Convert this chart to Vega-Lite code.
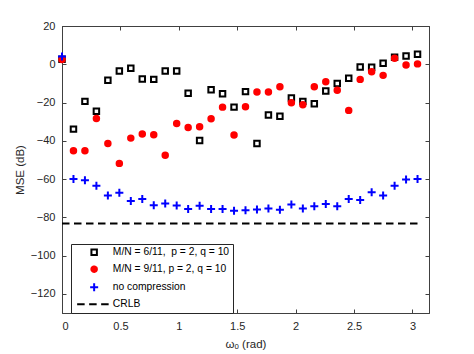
{
  "$schema": "https://vega.github.io/schema/vega-lite/v6.json",
  "width": 367,
  "height": 287,
  "autosize": {"type": "none"},
  "padding": {"left": 62, "top": 26, "right": 45, "bottom": 41},
  "background": "white",
  "config": {
    "font": "Liberation Sans",
    "view": {"stroke": "#404040", "strokeWidth": 1},
    "axis": {
      "labelFont": "Liberation Sans", "labelFontSize": 11, "labelColor": "#262626",
      "domainColor": "#404040", "tickColor": "#404040", "grid": false, "tickSize": -4,
      "titleFont": "Liberation Sans", "titleFontSize": 11.5, "titleFontWeight": "normal", "titleColor": "#262626"
    },
    "legend": {
      "orient": "none", "legendX": 9, "legendY": 218,
      "strokeColor": "#262626", "fillColor": "white", "padding": 3,
      "labelFont": "Liberation Sans", "labelFontSize": 10.3, "labelColor": "#000000",
      "symbolStrokeWidth": 2, "symbolOffset": 15, "labelOffset": 13.5, "rowPadding": 3
    }
  },
  "datasets": {
    "pts": [
      {"omega": 0, "mse": 2.6, "series": "A"}, {"omega": 0.0982, "mse": -33.9, "series": "A"}, {"omega": 0.1963, "mse": -19.4, "series": "A"}, {"omega": 0.2945, "mse": -24.5, "series": "A"},
      {"omega": 0.3927, "mse": -8.4, "series": "A"}, {"omega": 0.4909, "mse": -3.5, "series": "A"}, {"omega": 0.589, "mse": -2.1, "series": "A"}, {"omega": 0.6872, "mse": -7.7, "series": "A"},
      {"omega": 0.7854, "mse": -7.9, "series": "A"}, {"omega": 0.8836, "mse": -3.5, "series": "A"}, {"omega": 0.9817, "mse": -3.5, "series": "A"}, {"omega": 1.0799, "mse": -15.2, "series": "A"},
      {"omega": 1.1781, "mse": -39.8, "series": "A"}, {"omega": 1.2763, "mse": -13.3, "series": "A"}, {"omega": 1.3744, "mse": -15.4, "series": "A"}, {"omega": 1.4726, "mse": -22.4, "series": "A"},
      {"omega": 1.5708, "mse": -14.3, "series": "A"}, {"omega": 1.669, "mse": -41.4, "series": "A"}, {"omega": 1.7671, "mse": -26.5, "series": "A"}, {"omega": 1.8653, "mse": -27.2, "series": "A"},
      {"omega": 1.9635, "mse": -17.6, "series": "A"}, {"omega": 2.0617, "mse": -19.4, "series": "A"}, {"omega": 2.1598, "mse": -20.6, "series": "A"}, {"omega": 2.258, "mse": -14, "series": "A"},
      {"omega": 2.3562, "mse": -10, "series": "A"}, {"omega": 2.4544, "mse": -7.3, "series": "A"}, {"omega": 2.5525, "mse": -1.4, "series": "A"}, {"omega": 2.6507, "mse": -1.6, "series": "A"},
      {"omega": 2.7489, "mse": 0.5, "series": "A"}, {"omega": 2.8471, "mse": 3.7, "series": "A"}, {"omega": 2.9452, "mse": 4.3, "series": "A"}, {"omega": 3.0434, "mse": 5.2, "series": "A"},

      {"omega": 0, "mse": 2.5, "series": "B"}, {"omega": 0.0982, "mse": -45.2, "series": "B"}, {"omega": 0.1963, "mse": -45.2, "series": "B"}, {"omega": 0.2945, "mse": -28.3, "series": "B"},
      {"omega": 0.3927, "mse": -41.4, "series": "B"}, {"omega": 0.4909, "mse": -51.8, "series": "B"}, {"omega": 0.589, "mse": -38.6, "series": "B"}, {"omega": 0.6872, "mse": -36.5, "series": "B"},
      {"omega": 0.7854, "mse": -36.8, "series": "B"}, {"omega": 0.8836, "mse": -47.5, "series": "B"}, {"omega": 0.9817, "mse": -30.9, "series": "B"}, {"omega": 1.0799, "mse": -33, "series": "B"},
      {"omega": 1.1781, "mse": -32.7, "series": "B"}, {"omega": 1.2763, "mse": -28.5, "series": "B"}, {"omega": 1.3744, "mse": -22.4, "series": "B"}, {"omega": 1.4726, "mse": -37, "series": "B"},
      {"omega": 1.5708, "mse": -22.2, "series": "B"}, {"omega": 1.669, "mse": -14.5, "series": "B"}, {"omega": 1.7671, "mse": -14.5, "series": "B"}, {"omega": 1.8653, "mse": -11.7, "series": "B"},
      {"omega": 1.9635, "mse": -20.1, "series": "B"}, {"omega": 2.0617, "mse": -21.1, "series": "B"}, {"omega": 2.1598, "mse": -11.7, "series": "B"}, {"omega": 2.258, "mse": -9.1, "series": "B"},
      {"omega": 2.3562, "mse": -13.6, "series": "B"}, {"omega": 2.4544, "mse": -24.1, "series": "B"}, {"omega": 2.5525, "mse": -7.9, "series": "B"}, {"omega": 2.6507, "mse": -3.9, "series": "B"},
      {"omega": 2.7489, "mse": -5.8, "series": "B"}, {"omega": 2.8471, "mse": 3.1, "series": "B"}, {"omega": 2.9452, "mse": -0.4, "series": "B"}, {"omega": 3.0434, "mse": 0.2, "series": "B"},

      {"omega": 0, "mse": 4, "series": "C"}, {"omega": 0.0982, "mse": -60, "series": "C"}, {"omega": 0.1963, "mse": -60.6, "series": "C"}, {"omega": 0.2945, "mse": -63.5, "series": "C"},
      {"omega": 0.3927, "mse": -68.6, "series": "C"}, {"omega": 0.4909, "mse": -67.2, "series": "C"}, {"omega": 0.589, "mse": -71.4, "series": "C"}, {"omega": 0.6872, "mse": -70.4, "series": "C"},
      {"omega": 0.7854, "mse": -73.7, "series": "C"}, {"omega": 0.8836, "mse": -72.8, "series": "C"}, {"omega": 0.9817, "mse": -73.8, "series": "C"}, {"omega": 1.0799, "mse": -75.6, "series": "C"},
      {"omega": 1.1781, "mse": -74, "series": "C"}, {"omega": 1.2763, "mse": -75.6, "series": "C"}, {"omega": 1.3744, "mse": -75.6, "series": "C"}, {"omega": 1.4726, "mse": -76.6, "series": "C"},
      {"omega": 1.5708, "mse": -76.3, "series": "C"}, {"omega": 1.669, "mse": -75.9, "series": "C"}, {"omega": 1.7671, "mse": -75.4, "series": "C"}, {"omega": 1.8653, "mse": -76.1, "series": "C"},
      {"omega": 1.9635, "mse": -73.3, "series": "C"}, {"omega": 2.0617, "mse": -75.4, "series": "C"}, {"omega": 2.1598, "mse": -74.2, "series": "C"}, {"omega": 2.258, "mse": -73, "series": "C"},
      {"omega": 2.3562, "mse": -74.2, "series": "C"}, {"omega": 2.4544, "mse": -70.4, "series": "C"}, {"omega": 2.5525, "mse": -71, "series": "C"}, {"omega": 2.6507, "mse": -66.9, "series": "C"},
      {"omega": 2.7489, "mse": -68.6, "series": "C"}, {"omega": 2.8471, "mse": -63.5, "series": "C"}, {"omega": 2.9452, "mse": -60.2, "series": "C"}, {"omega": 3.0434, "mse": -60, "series": "C"}
    ],
    "crlb": [
      {"omega": 0, "mse": -83.2, "series": "D"},
      {"omega": 3.0434, "mse": -83.2, "series": "D"}
    ]
  },
  "layer": [
    {
      "data": {"name": "pts"},
      "mark": {"type": "point", "strokeWidth": 2, "opacity": 1},
      "encoding": {
        "x": {"field": "omega", "type": "quantitative",
          "scale": {"domain": [0, 3.1416], "nice": false, "zero": false},
          "axis": {"values": [0, 0.5, 1, 1.5, 2, 2.5, 3], "format": "~g", "title": "ωₒ (rad)", "labelPadding": 11, "titlePadding": 7}},
        "y": {"field": "mse", "type": "quantitative",
          "scale": {"domain": [-130, 20], "nice": false, "zero": false},
          "axis": {"values": [-120, -100, -80, -60, -40, -20, 0, 20], "title": "MSE (dB)", "labelPadding": 11, "titlePadding": 5}},
        "shape": {"field": "series", "type": "nominal",
          "scale": {"domain": ["A", "B", "C", "D"], "range": ["square", "circle", "M-1,0H1M0,-1V1", "M-4.25,0H4.25"]},
          "legend": {"title": null, "labelExpr": "datum.label == 'A' ? 'M/N = 6/11, \u00a0p = 2, q = 10' : datum.label == 'B' ? 'M/N = 9/11, p = 2, q = 10' : datum.label == 'C' ? 'no compression' : 'CRLB'"}},
        "stroke": {"field": "series", "type": "nominal",
          "scale": {"domain": ["A", "B", "C", "D"], "range": ["#000000", "#ff0000", "#0000ff", "#000000"]}},
        "fill": {"field": "series", "type": "nominal",
          "scale": {"domain": ["A", "B", "C", "D"], "range": ["transparent", "#ff0000", "transparent", "transparent"]}},
        "size": {"field": "series", "type": "nominal",
          "scale": {"type": "ordinal", "domain": ["A", "B", "C", "D"], "range": [30, 30, 64, 64]}}
      }
    },
    {
      "data": {"name": "crlb"},
      "mark": {"type": "line", "strokeWidth": 2},
      "encoding": {
        "x": {"field": "omega", "type": "quantitative",
          "axis": {"orient": "top", "values": [0, 0.5, 1, 1.5, 2, 2.5, 3], "labels": false, "title": null}},
        "y": {"field": "mse", "type": "quantitative",
          "axis": {"orient": "right", "values": [-120, -100, -80, -60, -40, -20, 0, 20], "labels": false, "title": null}},
        "stroke": {"field": "series", "type": "nominal"},
        "strokeDash": {"field": "series", "type": "nominal",
          "scale": {"domain": ["A", "B", "C", "D"], "range": [[1, 0], [1, 0], [1, 0], [7.5, 4.5]]}}
      }
    }
  ],
  "resolve": {"axis": {"x": "independent", "y": "independent"}}
}
